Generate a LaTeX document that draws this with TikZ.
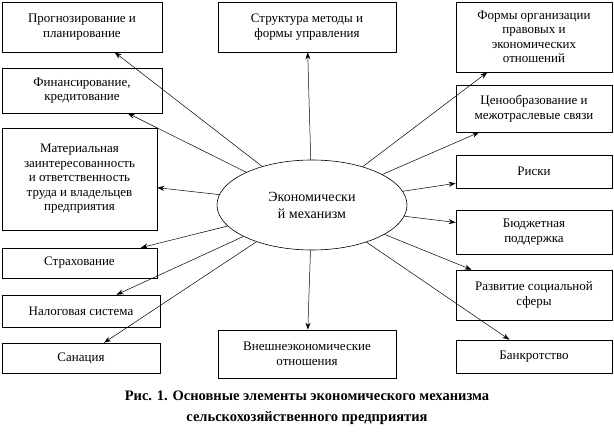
\documentclass[tikz,border=0pt]{standalone}
\usepackage{fontspec}
\setmainfont{Liberation Serif}
\usetikzlibrary{shapes.geometric,arrows.meta}
\begin{document}
\begin{tikzpicture}[x=1pt,y=-1pt,
 bx/.style={draw,line width=0.6pt,align=center,font=\fontsize{13}{14.5}\selectfont,inner sep=1pt},
 ar/.style={-{Stealth[length=7pt,width=5pt]},line width=0.5pt}]
\useasboundingbox (0,0) rectangle (614,441);
\newcommand{\bxat}[6]{\node[bx,minimum width=#3-#1,minimum height=#4-#2] (#5) at ({(#1+#3)/2},{(#2+#4)/2}) {#6};}
\bxat{2}{2}{162}{52}{l1}{Прогнозирование и\\планирование}
\bxat{2}{68}{162}{113}{l2}{Финансирование,\\кредитование}
\bxat{2}{128}{157}{230}{l3}{Материальная\\заинтересованность\\и ответственность\\труда и владельцев\\предприятия}
\bxat{2}{248}{157}{278}{l4}{Страхование}
\bxat{2}{295}{160}{327}{l5}{Налоговая система}
\bxat{2}{343}{160}{373}{l6}{Санация}
\bxat{218}{2}{396}{52}{t}{Структура методы и\\формы управления}
\bxat{218}{330}{396}{378}{b}{Внешнеэкономические\\отношения}
\bxat{456}{2}{612}{72}{r1}{Формы организации\\правовых и\\экономических\\отношений}
\bxat{456}{85}{612}{132}{r2}{Ценообразование и\\межотраслевые связи}
\bxat{456}{155}{612}{188}{r3}{Риски}
\bxat{456}{210}{612}{254}{r4}{Бюджетная\\поддержка}
\bxat{456}{270}{612}{320}{r5}{Развитие социальной\\сферы}
\bxat{456}{340}{612}{373}{r6}{Банкротство}
\node[draw,ellipse,line width=0.6pt,minimum width=190,minimum height=90,align=center,
 font=\fontsize{14}{17}\selectfont] (e) at (312,205) {Экономически\\й механизм};
\foreach \n in {l1,l2,l3,l4,l5,l6,t,b,r1,r2,r3,r4,r5,r6} \draw[ar] (e) -- (\n);
\node[font=\bfseries\fontsize{14.5}{21}\selectfont,align=center] (cap) at (307,408)
 {Рис. 1. Основные элементы экономического механизма\\сельскохозяйственного предприятия};
\end{tikzpicture}
\end{document}
